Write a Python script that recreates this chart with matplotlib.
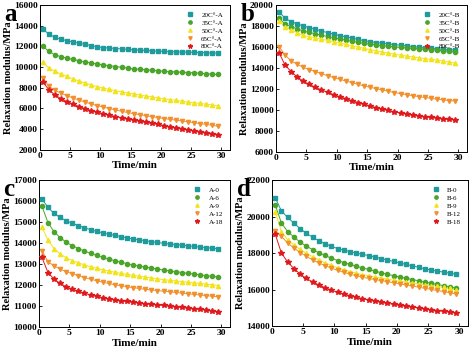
import numpy as np
import matplotlib
matplotlib.use('Agg')
import matplotlib.pyplot as plt

plt.rcParams['font.family'] = ['Liberation Serif', 'DejaVu Serif']

# time points (min)
t = [0.5, 1.5, 2.5, 3.5, 4.5, 5.5, 6.5, 7.5, 8.5, 9.5, 10.5, 11.5, 12.5, 13.5, 14.5,
     15.5, 16.5, 17.5, 18.5, 19.5, 20.5, 21.5, 22.5, 23.5, 24.5, 25.5, 26.5, 27.5, 28.5, 29.5]

# panel a
labels_a = ['20C°-A', '35C°-A', '50C°-A', '65C°-A', '80C°-A']
a_20 = [13660, 13180, 12860, 12680, 12540, 12420, 12300, 12190, 12080, 11950, 11880, 11840, 11790, 11750, 11700,
        11670, 11640, 11600, 11570, 11540, 11510, 11490, 11470, 11450, 11440, 11420, 11400, 11380, 11360, 11340]
a_35 = [12000, 11520, 11170, 11000, 10850, 10730, 10610, 10500, 10400, 10300, 10210, 10130, 10050, 9980, 9900,
        9820, 9780, 9740, 9690, 9650, 9600, 9560, 9530, 9500, 9470, 9440, 9400, 9360, 9320, 9280]
a_50 = [10450, 9900, 9580, 9320, 9090, 8850, 8640, 8450, 8270, 8100, 7960, 7840, 7720, 7610, 7500,
        7400, 7300, 7210, 7120, 7030, 6940, 6860, 6780, 6700, 6620, 6550, 6480, 6410, 6340, 6240]
a_65 = [8960, 8130, 7750, 7480, 7230, 7000, 6800, 6610, 6430, 6270, 6130, 5990, 5860, 5730, 5610,
        5500, 5400, 5300, 5210, 5120, 5030, 4950, 4870, 4790, 4710, 4620, 4540, 4460, 4370, 4280]
a_80 = [8550, 7820, 7300, 6950, 6650, 6400, 6180, 5980, 5800, 5640, 5490, 5350, 5220, 5100, 4980,
        4870, 4760, 4660, 4560, 4470, 4350, 4240, 4140, 4040, 3940, 3850, 3760, 3670, 3580, 3480]

# panel b
labels_b = ['20C°-B', '35C°-B', '50C°-B', '65C°-B', '80C°-B']
b_20 = [19370, 18730, 18420, 18200, 17990, 17840, 17680, 17520, 17360, 17210, 17080, 16960, 16840, 16720, 16600,
        16490, 16420, 16360, 16290, 16220, 16160, 16090, 16030, 15970, 15910, 15860, 15820, 15780, 15740, 15710]
b_35 = [18730, 18190, 17930, 17720, 17520, 17380, 17250, 17120, 16990, 16870, 16760, 16650, 16540, 16440, 16340,
        16260, 16190, 16120, 16060, 16000, 15950, 15900, 15860, 15820, 15790, 15750, 15700, 15650, 15600, 15560]
b_50 = [18510, 17940, 17620, 17350, 17110, 16980, 16860, 16740, 16620, 16510, 16380, 16250, 16120, 15990, 15860,
        15750, 15640, 15530, 15420, 15310, 15210, 15130, 15050, 14970, 14890, 14820, 14740, 14660, 14560, 14450]
b_65 = [16030, 15240, 14670, 14350, 14060, 13850, 13650, 13450, 13260, 13080, 12920, 12760, 12600, 12440, 12290,
        12160, 12030, 11900, 11780, 11660, 11550, 11450, 11360, 11270, 11190, 11100, 11030, 10960, 10900, 10850]
b_80 = [15460, 14290, 13650, 13150, 12740, 12430, 12150, 11900, 11670, 11460, 11260, 11070, 10880, 10700, 10530,
        10370, 10220, 10080, 9950, 9820, 9700, 9600, 9510, 9430, 9360, 9290, 9230, 9170, 9110, 9050]

# panel c
labels_c = ['A-0', 'A-6', 'A-9', 'A-12', 'A-18']
c_0 = [16100, 15700, 15410, 15220, 15060, 14940, 14830, 14730, 14640, 14560, 14480, 14420, 14370, 14310, 14250,
       14200, 14160, 14110, 14070, 14030, 13990, 13960, 13930, 13900, 13870, 13840, 13810, 13780, 13760, 13730]
c_6 = [15760, 14970, 14540, 14260, 14040, 13880, 13740, 13620, 13510, 13410, 13320, 13240, 13160, 13090, 13020,
       12960, 12910, 12860, 12810, 12760, 12720, 12680, 12640, 12600, 12560, 12530, 12490, 12450, 12420, 12380]
c_9 = [14770, 14140, 13740, 13480, 13300, 13170, 13060, 12960, 12870, 12800, 12730, 12670, 12610, 12560, 12510,
       12460, 12420, 12380, 12340, 12300, 12260, 12230, 12200, 12170, 12140, 12110, 12080, 12050, 12020, 11980]
c_12 = [13640, 13110, 12920, 12760, 12640, 12540, 12450, 12360, 12280, 12210, 12140, 12080, 12020, 11970, 11920,
        11880, 11840, 11800, 11770, 11740, 11710, 11680, 11650, 11620, 11590, 11560, 11530, 11500, 11470, 11440]
c_18 = [13320, 12600, 12280, 12080, 11920, 11800, 11700, 11610, 11530, 11460, 11400, 11350, 11300, 11260, 11220,
        11180, 11150, 11120, 11090, 11060, 11030, 11000, 10970, 10940, 10910, 10880, 10850, 10810, 10770, 10740]

# panel d
labels_d = ['B-0', 'B-6', 'B-9', 'B-12', 'B-18']
d_0 = [21040, 20310, 19950, 19640, 19340, 19080, 18870, 18680, 18510, 18370, 18250, 18160, 18080, 18000, 17930,
       17860, 17780, 17700, 17620, 17540, 17460, 17380, 17300, 17220, 17140, 17070, 17010, 16960, 16900, 16850]
d_6 = [20640, 19640, 19180, 18880, 18600, 18380, 18190, 18020, 17870, 17720, 17590, 17480, 17380, 17280, 17190,
       17100, 17010, 16920, 16840, 16760, 16690, 16620, 16550, 16480, 16410, 16350, 16280, 16220, 16150, 16090]
d_9 = [20270, 19180, 18730, 18440, 18200, 17990, 17800, 17620, 17460, 17320, 17200, 17090, 16990, 16900, 16820,
       16750, 16690, 16630, 16570, 16510, 16460, 16410, 16360, 16310, 16260, 16220, 16170, 16120, 16060, 16000]
d_12 = [19220, 18910, 18550, 18280, 18030, 17820, 17630, 17460, 17310, 17180, 17060, 16950, 16850, 16760, 16680,
        16610, 16550, 16490, 16430, 16370, 16310, 16250, 16190, 16130, 16070, 16010, 15950, 15890, 15830, 15760]
d_18 = [19040, 18000, 17510, 17150, 16850, 16610, 16420, 16250, 16100, 15970, 15850, 15750, 15660, 15580, 15500,
        15430, 15370, 15310, 15250, 15190, 15140, 15090, 15040, 14990, 14940, 14900, 14850, 14810, 14770, 14730]

colors = ['#1f9b9b', '#4aa52a', '#f2e41c', '#f0912e', '#e0191c']
markers = ['s', 'o', '^', 'v', '*']

panels = [
    ('a', [0.084, 0.573, 0.401, 0.413], labels_a, [a_20, a_35, a_50, a_65, a_80], (2000, 16000), 2000),
    ('b', [0.582, 0.567, 0.403, 0.419], labels_b, [b_20, b_35, b_50, b_65, b_80], (6000, 20000), 2000),
    ('c', [0.082, 0.068, 0.403, 0.419], labels_c, [c_0, c_6, c_9, c_12, c_18], (10000, 17000), 1000),
    ('d', [0.574, 0.071, 0.413, 0.416], labels_d, [d_0, d_6, d_9, d_12, d_18], (14000, 22000), 2000),
]

fig = plt.figure(figsize=(4.74, 3.51), dpi=100)

for letter, pos, labs, series, ylim, step in panels:
    ax = fig.add_axes(pos)
    for i in range(5):
        ax.plot(t, series[i], color=colors[i], lw=0.7, zorder=2)
        ax.plot(t, series[i], ls='none', marker=markers[i], ms=3.0 if markers[i] != '*' else 4.0,
                color=colors[i], mec=colors[i], label=labs[i], zorder=3)
    ax.set_xlim(0, 31.4)
    ax.set_ylim(*ylim)
    ax.set_xticks([0, 5, 10, 15, 20, 25, 30])
    ax.set_yticks(np.arange(ylim[0], ylim[1] + 1, step))
    ax.tick_params(direction='in', labelsize=6.8, length=2.5, width=0.6, pad=1.5)
    for lab in ax.get_xticklabels() + ax.get_yticklabels():
        lab.set_fontweight('bold')
    for s in ax.spines.values():
        s.set_linewidth(0.7)
    ax.set_xlabel('Time/min', fontsize=8, fontweight='bold', labelpad=1)
    ax.set_ylabel('Relaxation modulus/MPa', fontsize=7.5, fontweight='bold', labelpad=0.5)
    leg = ax.legend(loc='upper right', frameon=False, fontsize=5, handletextpad=0.6,
                    labelspacing=0.3, borderaxespad=0.6, markerscale=0.8)
    bb = ax.get_position()
    fig.text(bb.x0 - 0.075, bb.y1 + 0.005, letter, fontsize=18, fontweight='bold',
             va='top', ha='left')

fig.savefig('out.png', dpi=100)
